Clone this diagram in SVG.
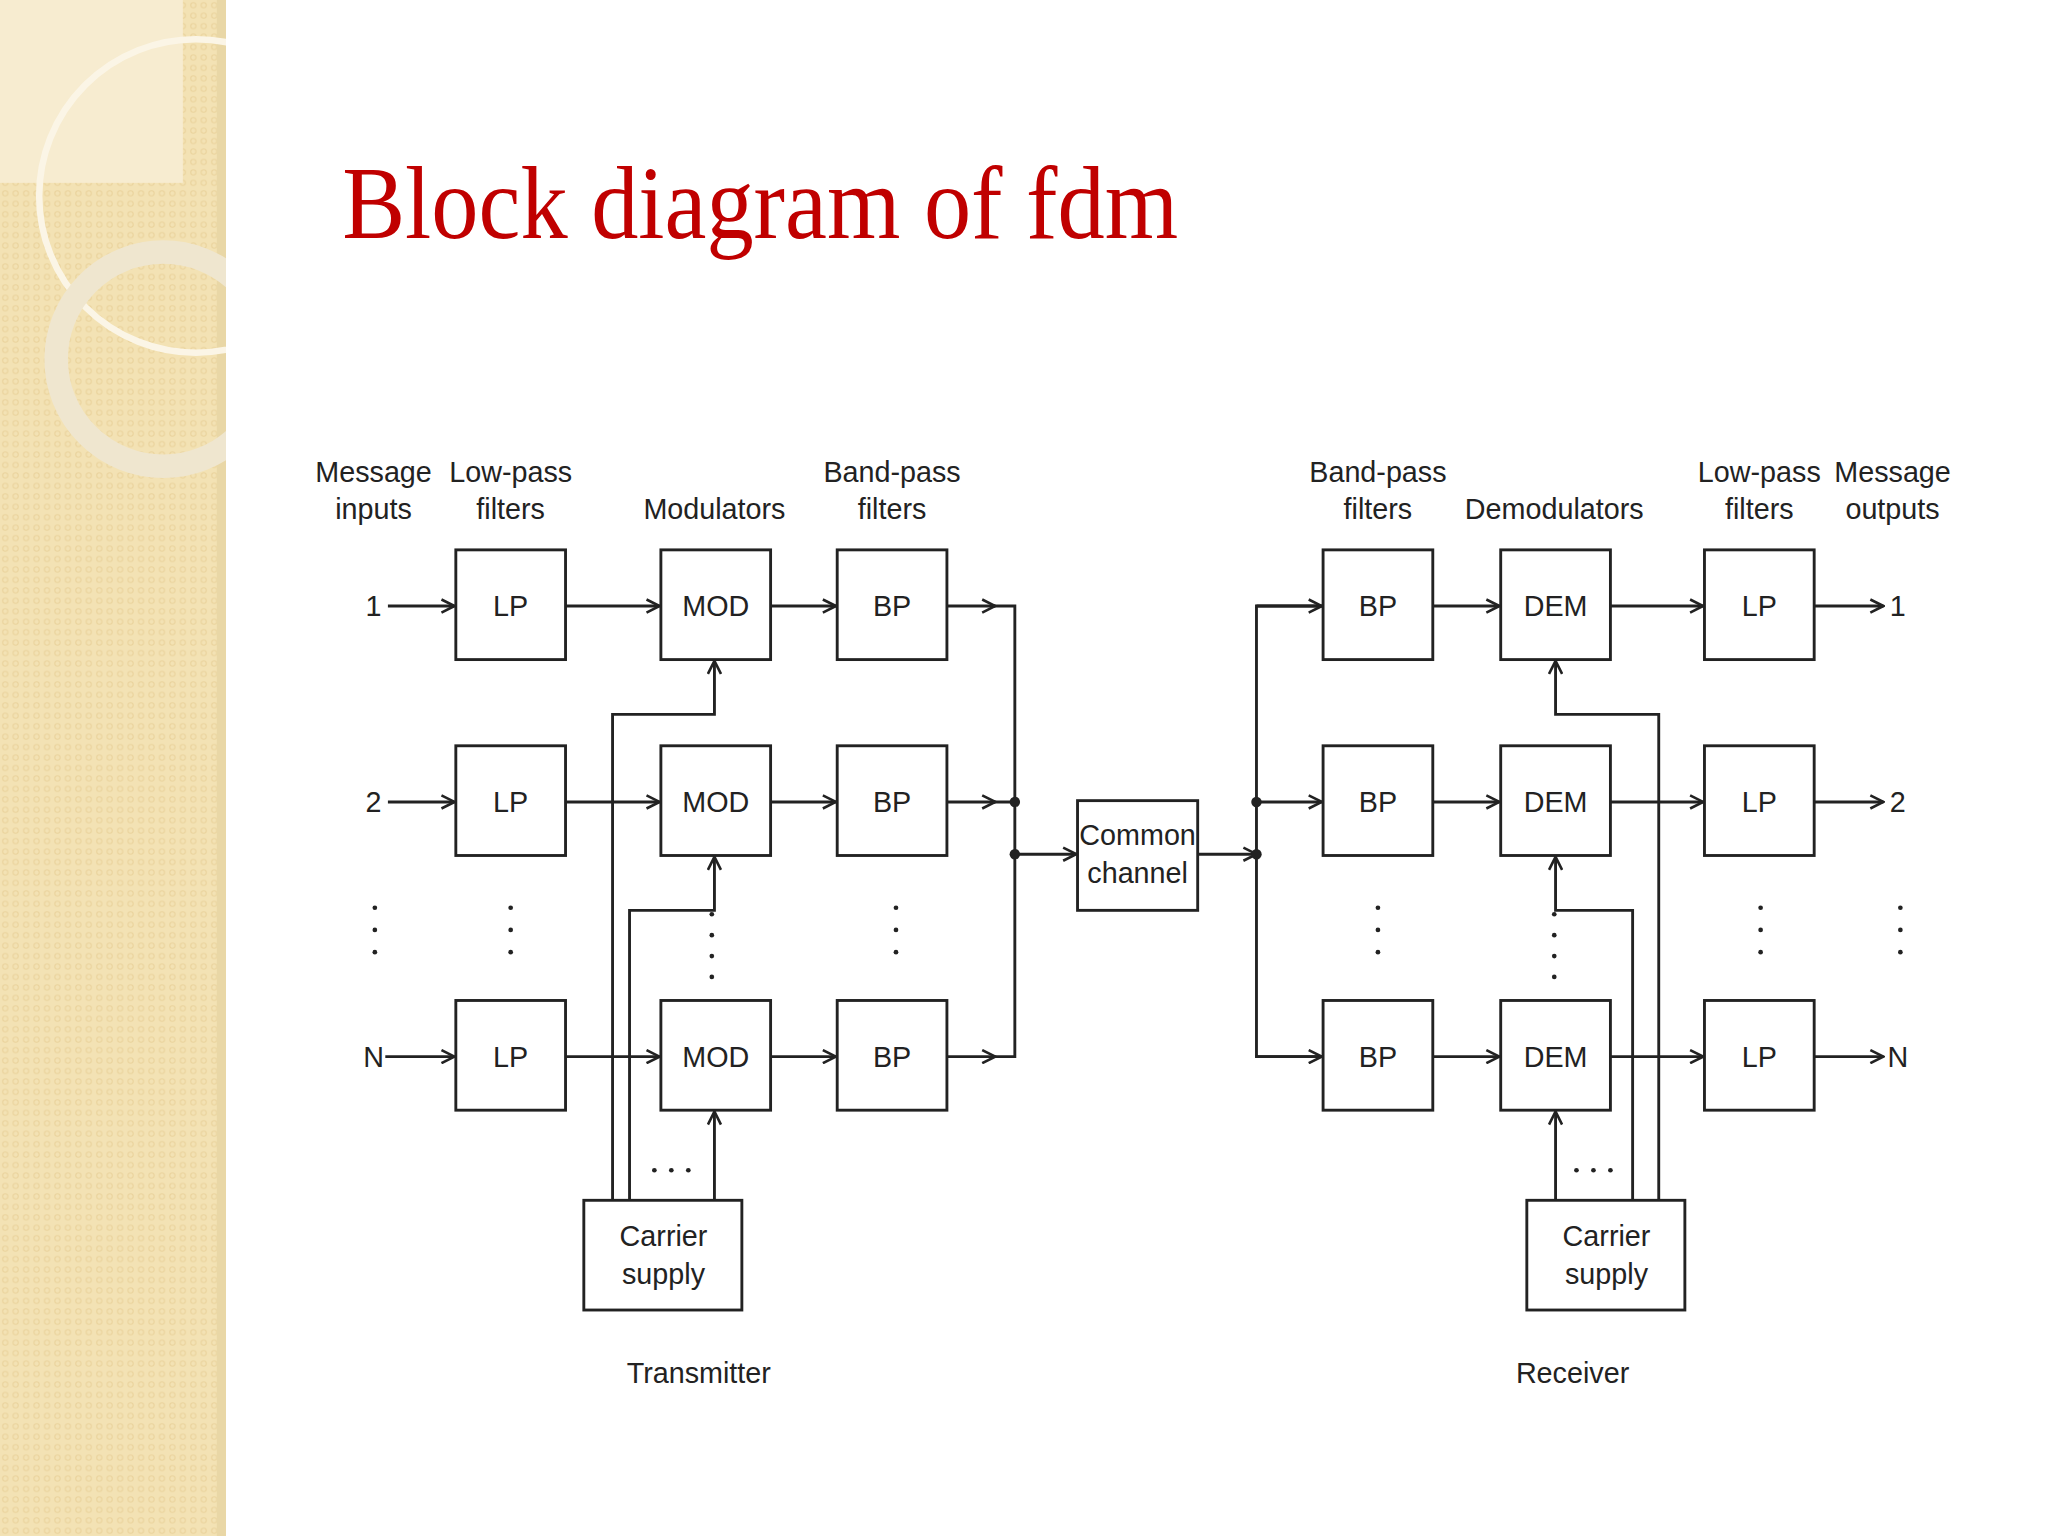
<svg xmlns="http://www.w3.org/2000/svg" width="2048" height="1536" viewBox="0 0 2048 1536">
<style>
.b{fill:#fff;stroke:#222;stroke-width:2.2}
.t{font-family:"Liberation Sans Narrow","Liberation Sans",Arial,sans-serif;font-size:22px;fill:#222;text-anchor:middle}
.c{fill:none;stroke:#222;stroke-width:2.2}
.d{fill:#222}
</style>
<defs>
<marker id="a" viewBox="0 0 12 12" refX="11" refY="6" markerWidth="12" markerHeight="12" markerUnits="userSpaceOnUse" orient="auto">
<path d="M1,1 L11,6 L1,11" fill="none" stroke="#222" stroke-width="2"/>
</marker>
<pattern id="p" width="8" height="8" patternUnits="userSpaceOnUse">
<rect width="8" height="8" fill="#f3e2b4"/><circle cx="4" cy="4" r="2" fill="none" stroke="#ead39c" stroke-width="0.8"/>
</pattern>
<clipPath id="cl"><rect x="0" y="0" width="173" height="1176"/></clipPath>
</defs>
<rect width="2048" height="1536" fill="#fff"/>
<g transform="scale(1.3061,1.3061)">
<rect x="0" y="0" width="173" height="1176" fill="url(#p)"/>
<rect x="166" y="0" width="7" height="1176" fill="#e9d7a6"/>
<g fill="none" clip-path="url(#cl)">
<rect x="0" y="0" width="140" height="140" fill="#f7ecd0"/>
<circle cx="150" cy="150" r="120" stroke="#fbf5e6" stroke-width="5"/>
<circle cx="125" cy="275" r="82" stroke="#efe6cf" stroke-width="18"/>
</g>
<text x="262" y="182" font-family="'Liberation Serif',serif" font-size="80" fill="#c00000" textLength="640" lengthAdjust="spacingAndGlyphs">Block diagram of fdm</text>

<g id="headers">
<text class="t" x="286" y="369">Message</text><text class="t" x="286" y="397">inputs</text>
<text class="t" x="391" y="369">Low-pass</text><text class="t" x="391" y="397">filters</text>
<text class="t" x="547" y="397">Modulators</text>
<text class="t" x="683" y="369">Band-pass</text><text class="t" x="683" y="397">filters</text>
<text class="t" x="1055" y="369">Band-pass</text><text class="t" x="1055" y="397">filters</text>
<text class="t" x="1190" y="397">Demodulators</text>
<text class="t" x="1347" y="369">Low-pass</text><text class="t" x="1347" y="397">filters</text>
<text class="t" x="1449" y="369">Message</text><text class="t" x="1449" y="397">outputs</text>
<text class="t" x="286" y="472">1</text><text class="t" x="286" y="622">2</text><text class="t" x="286" y="817">N</text>
<text class="t" x="1453" y="472">1</text><text class="t" x="1453" y="622">2</text><text class="t" x="1453" y="817">N</text>
<text class="t" x="535" y="1059">Transmitter</text><text class="t" x="1204" y="1059">Receiver</text>
</g>

<g id="connectors" class="c">
<path marker-end="url(#a)" d="M297,464H348"/><path marker-end="url(#a)" d="M297,614H348"/><path marker-end="url(#a)" d="M295,809H348"/>
<path marker-end="url(#a)" d="M433,464H505"/><path marker-end="url(#a)" d="M433,614H505"/><path marker-end="url(#a)" d="M433,809H505"/>
<path marker-end="url(#a)" d="M590,464H640"/><path marker-end="url(#a)" d="M590,614H640"/><path marker-end="url(#a)" d="M590,809H640"/>
<path marker-end="url(#a)" d="M725,464H762"/><path marker-end="url(#a)" d="M725,614H762"/><path marker-end="url(#a)" d="M725,809H762"/>
<path d="M760,464H777V809H760M760,614H777"/>
<path marker-end="url(#a)" d="M777,654H824"/>
<path marker-end="url(#a)" d="M917,654H962"/>
<path d="M1012,464H962V809H1012"/>
<path marker-end="url(#a)" d="M962,464H1012"/><path marker-end="url(#a)" d="M962,614H1012"/><path marker-end="url(#a)" d="M962,809H1012"/>
<path marker-end="url(#a)" d="M1097,464H1148"/><path marker-end="url(#a)" d="M1097,614H1148"/><path marker-end="url(#a)" d="M1097,809H1148"/>
<path marker-end="url(#a)" d="M1233,464H1304"/><path marker-end="url(#a)" d="M1233,614H1304"/><path marker-end="url(#a)" d="M1233,809H1304"/>
<path marker-end="url(#a)" d="M1389,464H1442"/><path marker-end="url(#a)" d="M1389,614H1442"/><path marker-end="url(#a)" d="M1389,809H1442"/>
<path marker-end="url(#a)" d="M469,919V547H547V506"/>
<path marker-end="url(#a)" d="M482,919V697H547V656"/>
<path marker-end="url(#a)" d="M547,919V851"/>
<path marker-end="url(#a)" d="M1191,919V851"/>
<path marker-end="url(#a)" d="M1250,919V697H1191V656"/>
<path marker-end="url(#a)" d="M1270,919V547H1191V506"/>
</g>
<g id="dots" class="d">
<circle cx="777" cy="614" r="4"/><circle cx="777" cy="654" r="4"/><circle cx="962" cy="614" r="4"/><circle cx="962" cy="654" r="4"/>
<circle cx="287" cy="695" r="1.8"/><circle cx="287" cy="712" r="1.8"/><circle cx="287" cy="729" r="1.8"/>
<circle cx="391" cy="695" r="1.8"/><circle cx="391" cy="712" r="1.8"/><circle cx="391" cy="729" r="1.8"/>
<circle cx="686" cy="695" r="1.8"/><circle cx="686" cy="712" r="1.8"/><circle cx="686" cy="729" r="1.8"/>
<circle cx="1055" cy="695" r="1.8"/><circle cx="1055" cy="712" r="1.8"/><circle cx="1055" cy="729" r="1.8"/>
<circle cx="1348" cy="695" r="1.8"/><circle cx="1348" cy="712" r="1.8"/><circle cx="1348" cy="729" r="1.8"/>
<circle cx="1455" cy="695" r="1.8"/><circle cx="1455" cy="712" r="1.8"/><circle cx="1455" cy="729" r="1.8"/>
<circle cx="545" cy="700" r="1.8"/><circle cx="545" cy="716" r="1.8"/><circle cx="545" cy="732" r="1.8"/><circle cx="545" cy="748" r="1.8"/>
<circle cx="1190" cy="700" r="1.8"/><circle cx="1190" cy="716" r="1.8"/><circle cx="1190" cy="732" r="1.8"/><circle cx="1190" cy="748" r="1.8"/>
<circle cx="501" cy="896" r="1.8"/><circle cx="514" cy="896" r="1.8"/><circle cx="527" cy="896" r="1.8"/>
<circle cx="1207" cy="896" r="1.8"/><circle cx="1220" cy="896" r="1.8"/><circle cx="1233" cy="896" r="1.8"/>
</g>

<g id="lp1"><rect class="b" x="349" y="421" width="84" height="84"/><text class="t" x="391" y="472">LP</text></g>
<g id="lp2"><rect class="b" x="349" y="571" width="84" height="84"/><text class="t" x="391" y="622">LP</text></g>
<g id="lpn"><rect class="b" x="349" y="766" width="84" height="84"/><text class="t" x="391" y="817">LP</text></g>
<g id="mod1"><rect class="b" x="506" y="421" width="84" height="84"/><text class="t" x="548" y="472">MOD</text></g>
<g id="mod2"><rect class="b" x="506" y="571" width="84" height="84"/><text class="t" x="548" y="622">MOD</text></g>
<g id="modn"><rect class="b" x="506" y="766" width="84" height="84"/><text class="t" x="548" y="817">MOD</text></g>
<g id="bp1"><rect class="b" x="641" y="421" width="84" height="84"/><text class="t" x="683" y="472">BP</text></g>
<g id="bp2"><rect class="b" x="641" y="571" width="84" height="84"/><text class="t" x="683" y="622">BP</text></g>
<g id="bpn"><rect class="b" x="641" y="766" width="84" height="84"/><text class="t" x="683" y="817">BP</text></g>
<g id="channel"><rect class="b" x="825" y="613" width="92" height="84"/><text class="t" x="871" y="647">Common</text><text class="t" x="871" y="676">channel</text></g>
<g id="rbp1"><rect class="b" x="1013" y="421" width="84" height="84"/><text class="t" x="1055" y="472">BP</text></g>
<g id="rbp2"><rect class="b" x="1013" y="571" width="84" height="84"/><text class="t" x="1055" y="622">BP</text></g>
<g id="rbpn"><rect class="b" x="1013" y="766" width="84" height="84"/><text class="t" x="1055" y="817">BP</text></g>
<g id="dem1"><rect class="b" x="1149" y="421" width="84" height="84"/><text class="t" x="1191" y="472">DEM</text></g>
<g id="dem2"><rect class="b" x="1149" y="571" width="84" height="84"/><text class="t" x="1191" y="622">DEM</text></g>
<g id="demn"><rect class="b" x="1149" y="766" width="84" height="84"/><text class="t" x="1191" y="817">DEM</text></g>
<g id="rlp1"><rect class="b" x="1305" y="421" width="84" height="84"/><text class="t" x="1347" y="472">LP</text></g>
<g id="rlp2"><rect class="b" x="1305" y="571" width="84" height="84"/><text class="t" x="1347" y="622">LP</text></g>
<g id="rlpn"><rect class="b" x="1305" y="766" width="84" height="84"/><text class="t" x="1347" y="817">LP</text></g>
<g id="carrierT"><rect class="b" x="447" y="919" width="121" height="84"/><text class="t" x="508" y="954">Carrier</text><text class="t" x="508" y="983">supply</text></g>
<g id="carrierR"><rect class="b" x="1169" y="919" width="121" height="84"/><text class="t" x="1230" y="954">Carrier</text><text class="t" x="1230" y="983">supply</text></g>
</g>
</svg>
